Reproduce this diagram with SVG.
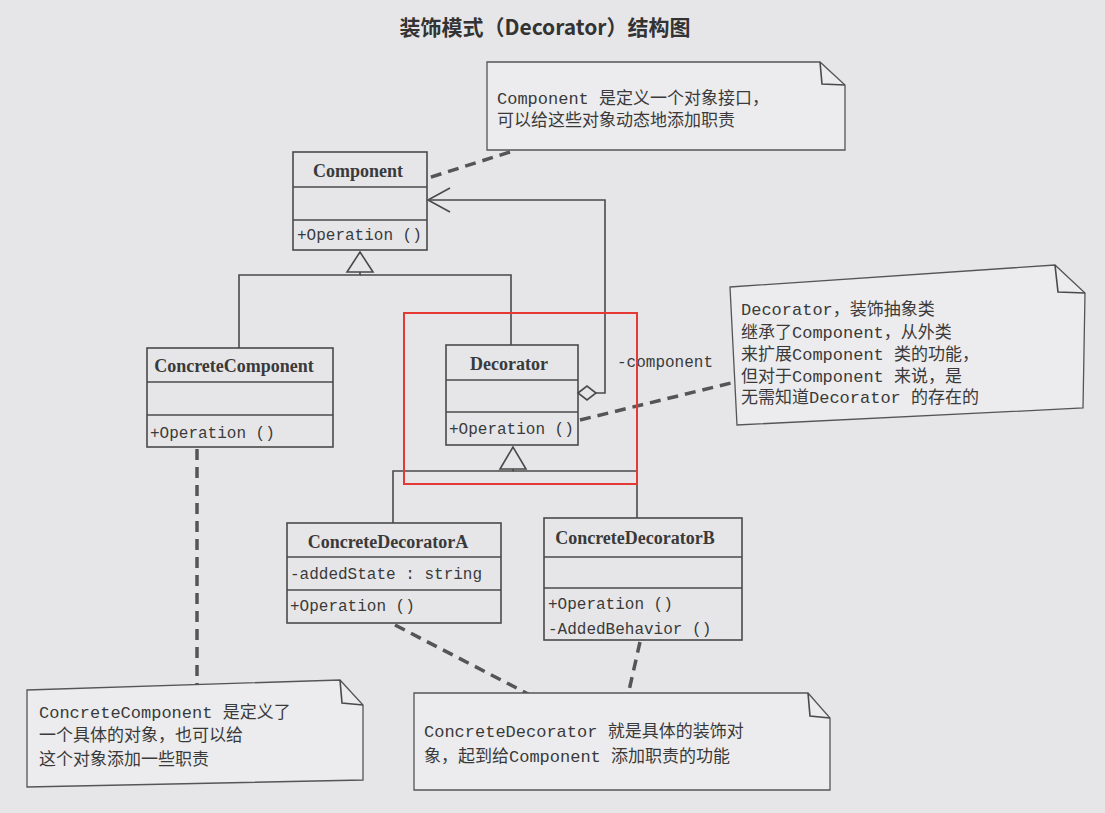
<svg xmlns="http://www.w3.org/2000/svg" width="1105" height="813" viewBox="0 0 1105 813">
<style>
.box{fill:none;stroke:#4a4a4a;stroke-width:1.6}
.ln{fill:none;stroke:#4a4a4a;stroke-width:1.6}
.dash{fill:none;stroke:#555;stroke-width:3.5;stroke-dasharray:11,7}
.note{fill:#ececee;stroke:#555;stroke-width:1.3}
.nm{font-family:"Liberation Serif","Noto Sans CJK SC",serif;font-weight:bold;font-size:18px;fill:#3a3a3a;text-anchor:middle}
.op{font-family:"Liberation Mono","Noto Sans CJK SC",monospace;font-size:16px;fill:#3a3a3a}
.nt{font-family:"Liberation Mono","Noto Sans CJK SC",monospace;font-size:17px;fill:#3a3a3a}
</style>
<rect width="1105" height="813" fill="#e6e6e9"/>
<text x="545" y="35" font-family="Noto Sans CJK SC,sans-serif" font-weight="bold" font-size="21" fill="#333" text-anchor="middle">装饰模式（Decorator）结构图</text>
<g id="connectors">
<line class="dash" x1="510" y1="152" x2="428" y2="178"/>
<polygon class="ln" points="360,252 347,272 373,272" fill="#e6e6e9"/>
<polyline class="ln" points="360,272 360,275 239,275 239,348"/>
<polyline class="ln" points="360,275 511,275 511,345"/>
<polygon points="578,393 587,386 596,393 587,400" fill="#e6e6e9" stroke="#4a4a4a" stroke-width="1.6"/>
<polyline class="ln" points="596,393 605,393 605,200 428,200"/>
<polyline class="ln" points="450,188 428,200 450,212"/>
<text x="617" y="367" class="op">-component</text>
<line class="dash" x1="580" y1="420" x2="735" y2="382"/>
<polygon class="ln" points="513,447 500,469 526,469" fill="#e6e6e9"/>
<polyline class="ln" points="513,469 513,471 393,471 393,523"/>
<polyline class="ln" points="513,471 637,471 637,518"/>
<line class="dash" x1="197" y1="449" x2="197" y2="685"/>
<line class="dash" x1="395" y1="625" x2="530" y2="695"/>
<line class="dash" x1="640" y1="642" x2="628" y2="695"/>
</g>
<g id="note1"><polygon class="note" points="487,62 820,62 845,85 845,150 487,150"/><polyline class="ln" points="820,62 822,84 845,85" stroke-width="1.2"/>
<text x="497" y="104" class="nt">Component 是定义一个对象接口，</text><text x="497" y="126" class="nt">可以给这些对象动态地添加职责</text></g>
<g id="Component"><rect class="box" x="293" y="152" width="134" height="98"/><line class="ln" x1="293" y1="187" x2="427" y2="187"/><line class="ln" x1="293" y1="220" x2="427" y2="220"/>
<text x="358" y="177" class="nm">Component</text><text x="297" y="240" class="op">+Operation ()</text></g>
<g id="ConcreteComponent"><rect class="box" x="147" y="348" width="186" height="99"/><line class="ln" x1="147" y1="382" x2="333" y2="382"/><line class="ln" x1="147" y1="415" x2="333" y2="415"/>
<text x="234" y="372" class="nm">ConcreteComponent</text><text x="150" y="438" class="op">+Operation ()</text></g>
<g id="Decorator"><rect class="box" x="446" y="345" width="132" height="100"/><line class="ln" x1="446" y1="380" x2="578" y2="380"/><line class="ln" x1="446" y1="412" x2="578" y2="412"/>
<text x="509" y="370" class="nm">Decorator</text><text x="449" y="434" class="op">+Operation ()</text></g>
<rect x="404" y="313" width="233" height="171" fill="none" stroke="#e53935" stroke-width="2"/>
<g id="note2"><polygon class="note" points="730,287 1055,265 1085,293 1083,408 737,425"/><polyline class="ln" points="1055,265 1058,292 1085,293" stroke-width="1.2"/>
<text x="741" y="315" class="nt">Decorator，装饰抽象类</text><text x="741" y="338" class="nt">继承了Component，从外类</text><text x="741" y="360" class="nt">来扩展Component 类的功能，</text><text x="741" y="382" class="nt">但对于Component 来说，是</text><text x="741" y="403" class="nt">无需知道Decorator 的存在的</text></g>
<g id="ConcreteDecoratorA"><rect class="box" x="287" y="523" width="214" height="100"/><line class="ln" x1="287" y1="557" x2="501" y2="557"/><line class="ln" x1="287" y1="590" x2="501" y2="590"/>
<text x="388" y="548" class="nm">ConcreteDecoratorA</text><text x="290" y="579" class="op">-addedState  : string</text><text x="290" y="611" class="op">+Operation ()</text></g>
<g id="ConcreteDecoratorB"><rect class="box" x="544" y="518" width="198" height="122"/><line class="ln" x1="544" y1="557" x2="742" y2="557"/><line class="ln" x1="544" y1="588" x2="742" y2="588"/>
<text x="635" y="544" class="nm">ConcreteDecoratorB</text><text x="548" y="609" class="op">+Operation ()</text><text x="548" y="634" class="op">-AddedBehavior ()</text></g>
<g id="note3"><polygon class="note" points="27,690 340,680 363,705 363,780 27,787"/><polyline class="ln" points="340,680 342,703 363,705" stroke-width="1.2"/>
<text x="39" y="718" class="nt">ConcreteComponent 是定义了</text><text x="39" y="741" class="nt">一个具体的对象，也可以给</text><text x="39" y="765" class="nt">这个对象添加一些职责</text></g>
<g id="note4"><polygon class="note" points="414,693 808,693 830,718 830,790 414,790"/><polyline class="ln" points="808,693 810,716 830,718" stroke-width="1.2"/>
<text x="424" y="737" class="nt">ConcreteDecorator 就是具体的装饰对</text><text x="424" y="762" class="nt">象，起到给Component 添加职责的功能</text></g>
</svg>
